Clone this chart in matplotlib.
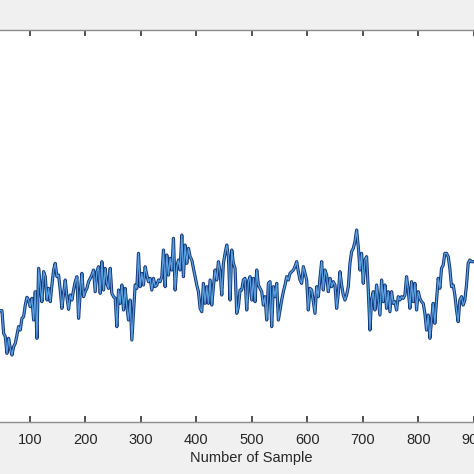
"""
Sample series plot (MATLAB-style, cropped view).
"""
import numpy as np
import matplotlib.pyplot as plt
import matplotlib.patheffects as pe

# signal, one value every 3 samples from sample 47
first_sample = 47
sample_step = 3
signal = [
    33.4, 33.4, 26.6, 25.6, 20.6, 25.1, 22.1, 20.1, 22.6, 23.6, 26.1, 28.6, 27.6, 31.1, 31.6, 35.1,
    37.4, 36.6, 34.6, 37.1, 30.6, 39.1, 25.1, 46.1, 40.6, 36.1, 45.1, 43.6, 36.6, 40.1, 36.1, 41.1,
    45.6, 47.6, 43.6, 44.1, 39.6, 34.1, 38.6, 42.6, 37.6, 33.8, 38.1, 36.6, 39.6, 42.1, 43.6, 31.1,
    38.6, 44.6, 37.6, 39.1, 40.1, 42.1, 43.1, 44.1, 45.6, 39.1, 45.1, 46.6, 38.6, 48.1, 39.6, 46.1,
    41.6, 40.1, 46.1, 38.6, 37.6, 37.1, 28.6, 39.6, 35.6, 41.1, 33.6, 40.1, 34.6, 30.6, 36.6, 24.6,
    32.6, 41.1, 40.1, 50.6, 40.6, 44.6, 41.1, 46.6, 44.1, 42.1, 43.1, 39.6, 43.1, 40.6, 41.1, 42.6,
    42.1, 43.6, 51.6, 40.6, 50.1, 44.1, 49.1, 45.6, 55.1, 39.6, 46.6, 48.6, 45.6, 56.1, 43.6, 53.1,
    47.6, 52.1, 49.6, 48.6, 46.1, 43.6, 41.1, 39.1, 34.1, 33.1, 41.6, 35.6, 40.6, 35.6, 42.6, 35.1,
    40.6, 45.6, 42.6, 48.1, 45.1, 38.1, 47.6, 50.6, 53.1, 49.6, 36.6, 51.6, 47.6,
    46.1, 32.6, 34.6, 39.6, 39.6, 42.6, 43.1, 33.6, 42.1, 43.6, 36.6, 43.1, 36.1, 45.6, 41.1, 40.1,
    39.1, 35.1, 37.6, 30.6, 41.6, 42.1, 28.6, 40.6, 37.6, 41.6, 30.6, 33.6, 36.6, 39.1, 41.1, 43.6,
    42.6, 44.6, 45.1, 45.6, 46.6, 48.1, 45.1, 42.6, 41.6, 46.6, 44.6, 42.6, 33.6, 40.1, 39.6, 36.1,
    32.6, 40.6, 37.6, 43.1, 48.1, 39.6, 45.6, 44.1, 39.1, 43.1, 40.6, 42.1, 41.1, 34.1, 38.6, 45.1,
    41.1, 38.1, 36.6, 38.1, 40.6, 47.6, 51.1, 52.1, 54.1, 57.6, 52.6, 45.6, 50.6, 41.6, 48.6, 49.6,
    39.6, 27.6, 36.6, 39.1, 33.6, 41.1, 36.6, 32.1, 42.6, 36.1, 41.1, 34.1, 39.1, 33.1, 39.1, 35.6,
    36.1, 33.6, 37.6, 36.6, 37.6, 37.1, 38.1, 43.6, 39.6, 34.1, 42.1, 36.1, 41.6, 33.6, 39.1, 37.1,
    36.1, 35.6, 32.6, 27.6, 32.1, 25.1, 30.6, 35.6, 29.6, 36.6, 43.1, 40.1, 46.1, 47.1, 50.6, 50.6,
    49.6, 46.1, 40.6, 41.1, 38.1, 33.6, 30.1, 36.6, 37.6, 35.1, 36.6, 41.1, 47.6, 48.6, 48.1, 48.1,
]
xticks = [100, 200, 300, 400, 500, 600, 700, 800, 900]
xlabel = "Number of Sample"

samples = first_sample + sample_step * np.arange(len(signal))

plt.rcParams["font.family"] = ["Liberation Sans", "DejaVu Sans"]

fig = plt.figure(figsize=(4.74, 4.74), dpi=100, facecolor="#f0f0f0")
# axes deliberately wider than the figure: the reference is a crop
ax = fig.add_axes([-0.0544, 0.1097, 1.1709, 0.828])
ax.set_facecolor("white")

ax.plot(samples, signal, color="#5aa0e0", lw=0.9,
        path_effects=[pe.Stroke(linewidth=2.3, foreground="#143878"), pe.Normal()])

ax.set_xlim(0, 1000)
ax.set_ylim(0, 117.75)
ax.set_xticks(xticks)
ax.set_yticks([])
ax.tick_params(axis="x", direction="in", length=4, width=1.2, color="#333333",
               top=True, labelsize=10.5, labelcolor="#262626", pad=8)
for side in ax.spines.values():
    side.set_color("#8c8c8c")
    side.set_linewidth(1.0)

ax.set_xlabel(xlabel, fontsize=10.5, color="#262626", labelpad=3)

fig.savefig("out.png", dpi=100, facecolor=fig.get_facecolor())
